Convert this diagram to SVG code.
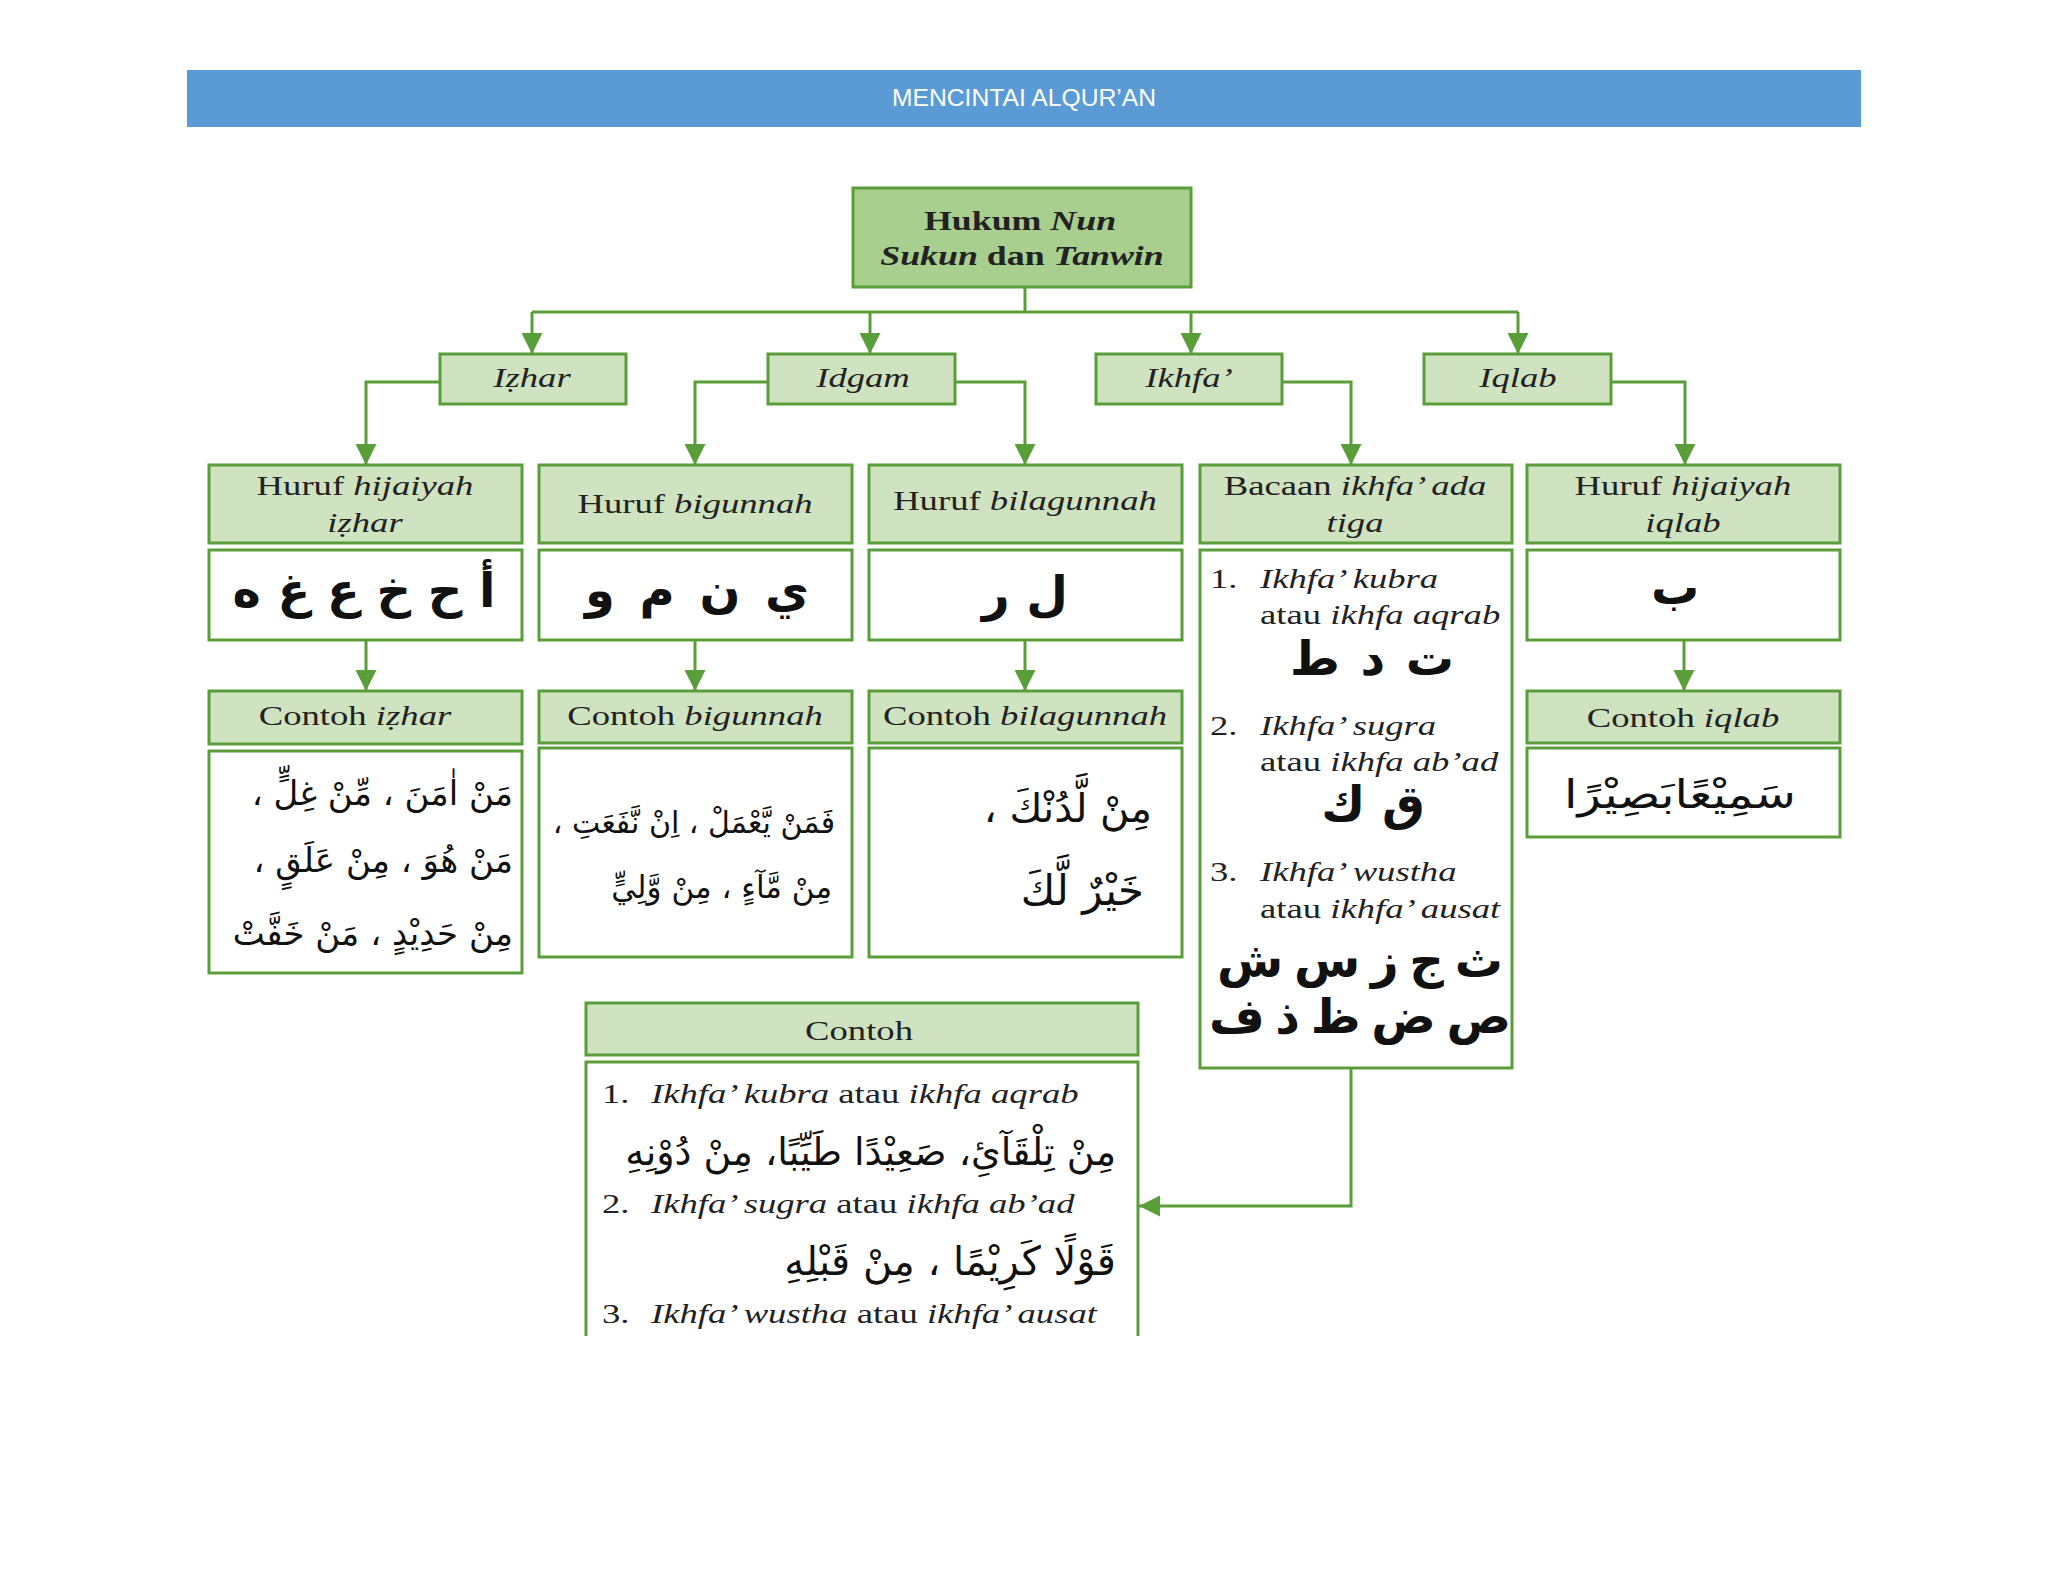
<svg xmlns="http://www.w3.org/2000/svg" width="2048" height="1582" viewBox="0 0 2048 1582">
<defs>
<style>
.bx{stroke:#5a9e3a;stroke-width:3}
.hd{fill:#cfe3c1}
.rt{fill:#a9cf8e}
.wb{fill:#ffffff}
.cn{stroke:#5a9e3a;stroke-width:3;fill:none}
.t{font-family:"Liberation Serif","Times New Roman",serif;font-size:28px;fill:#222222}
.b{font-weight:bold}
.i{font-style:italic}
.ar{font-family:"DejaVu Sans",sans-serif;fill:#111111}
.big{font-size:48px;font-weight:bold}
.ex{font-size:34px}
</style>
<marker id="ah" markerUnits="userSpaceOnUse" markerWidth="21" markerHeight="21" viewBox="0 0 20 20" refX="20" refY="10" orient="auto">
<path d="M0,0 L20,10 L0,20 z" fill="#5a9e3a"/>
</marker>
</defs>
<rect width="2048" height="1582" fill="#ffffff"/>

<g id="header-bar">
<rect x="187" y="70" width="1674" height="57" fill="#5b9bd5"/>
<text x="1024" y="106" text-anchor="middle" font-family="Liberation Sans, Arial, sans-serif" font-size="24" fill="#ffffff" textLength="264" lengthAdjust="spacingAndGlyphs">MENCINTAI ALQUR’AN</text>
</g>

<g id="connectors">
<path class="cn" d="M1025,287 V312"/>
<path class="cn" d="M532,312 H1518"/>
<path class="cn" d="M532,312 V354" marker-end="url(#ah)"/>
<path class="cn" d="M870,312 V354" marker-end="url(#ah)"/>
<path class="cn" d="M1191,312 V354" marker-end="url(#ah)"/>
<path class="cn" d="M1518,312 V354" marker-end="url(#ah)"/>
<path class="cn" d="M440,382 H366 V465" marker-end="url(#ah)"/>
<path class="cn" d="M768,382 H695 V465" marker-end="url(#ah)"/>
<path class="cn" d="M955,382 H1025 V465" marker-end="url(#ah)"/>
<path class="cn" d="M1282,382 H1351 V465" marker-end="url(#ah)"/>
<path class="cn" d="M1611,382 H1685 V465" marker-end="url(#ah)"/>
<path class="cn" d="M366,640 V691" marker-end="url(#ah)"/>
<path class="cn" d="M695,640 V691" marker-end="url(#ah)"/>
<path class="cn" d="M1025,640 V691" marker-end="url(#ah)"/>
<path class="cn" d="M1684,640 V691" marker-end="url(#ah)"/>
<path class="cn" d="M1351,1068 V1206 H1139" marker-end="url(#ah)"/>
</g>

<g id="n-root">
<rect class="bx rt" x="853" y="188" width="338" height="99"/>
<text class="t b" text-anchor="middle" transform="translate(1020 230) scale(1.28 1)">Hukum <tspan class="i">Nun</tspan></text>
<text class="t b" text-anchor="middle" transform="translate(1022 265) scale(1.28 1)"><tspan class="i">Sukun</tspan> dan <tspan class="i">Tanwin</tspan></text>
</g>

<g id="n-izhar">
<rect class="bx hd" x="440" y="354" width="186" height="50"/>
<text class="t i" text-anchor="middle" transform="translate(532 387) scale(1.31 1)">Iẓhar</text>
</g>
<g id="n-idgam">
<rect class="bx hd" x="768" y="354" width="187" height="50"/>
<text class="t i" text-anchor="middle" transform="translate(863 387) scale(1.31 1)">Idgam</text>
</g>
<g id="n-ikhfa">
<rect class="bx hd" x="1096" y="354" width="186" height="50"/>
<text class="t i" text-anchor="middle" transform="translate(1189 387) scale(1.31 1)">Ikhfa’</text>
</g>
<g id="n-iqlab">
<rect class="bx hd" x="1424" y="354" width="187" height="50"/>
<text class="t i" text-anchor="middle" transform="translate(1518 387) scale(1.31 1)">Iqlab</text>
</g>

<g id="n-huruf-izhar">
<rect class="bx hd" x="209" y="465" width="313" height="78"/>
<text class="t" text-anchor="middle" transform="translate(365 495) scale(1.31 1)">Huruf <tspan class="i">hijaiyah</tspan></text>
<text class="t i" text-anchor="middle" transform="translate(365 532) scale(1.31 1)">iẓhar</text>
<rect class="bx wb" x="209" y="550" width="313" height="90"/>
<text class="ar big" x="364" y="607" text-anchor="middle" direction="rtl">أ ح خ ع غ ه</text>
</g>
<g id="n-contoh-izhar">
<rect class="bx hd" x="209" y="691" width="313" height="53"/>
<text class="t" text-anchor="middle" transform="translate(355 725) scale(1.31 1)">Contoh <tspan class="i">iẓhar</tspan></text>
<rect class="bx wb" x="209" y="751" width="313" height="222"/>
<text class="ar ex" x="513" y="805" direction="rtl" text-anchor="start">مَنْ اٰمَنَ ، مِّنْ غِلٍّ ،</text>
<text class="ar ex" x="513" y="872" direction="rtl" text-anchor="start">مَنْ هُوَ ، مِنْ عَلَقٍ ،</text>
<text class="ar ex" x="513" y="945" direction="rtl" text-anchor="start">مِنْ حَدِيْدٍ ، مَنْ خَفَّتْ</text>
</g>

<g id="n-huruf-bigunnah">
<rect class="bx hd" x="539" y="465" width="313" height="78"/>
<text class="t" text-anchor="middle" transform="translate(695 513) scale(1.31 1)">Huruf <tspan class="i">bigunnah</tspan></text>
<rect class="bx wb" x="539" y="550" width="313" height="90"/>
<text class="ar big" x="697" y="607" text-anchor="middle" direction="rtl" word-spacing="8">ي ن م و</text>
</g>
<g id="n-contoh-bigunnah">
<rect class="bx hd" x="539" y="691" width="313" height="52"/>
<text class="t" text-anchor="middle" transform="translate(695 725) scale(1.31 1)">Contoh <tspan class="i">bigunnah</tspan></text>
<rect class="bx wb" x="539" y="748" width="313" height="209"/>
<text class="ar" font-size="30" x="835" y="833" direction="rtl" text-anchor="start">فَمَنْ يَّعْمَلْ ، اِنْ نَّفَعَتِ ،</text>
<text class="ar" font-size="31" x="832" y="898" direction="rtl" text-anchor="start">مِنْ مَّآءٍ ، مِنْ وَّلِيٍّ</text>
</g>

<g id="n-huruf-bilagunnah">
<rect class="bx hd" x="869" y="465" width="313" height="78"/>
<text class="t" text-anchor="middle" transform="translate(1025 510) scale(1.31 1)">Huruf <tspan class="i">bilagunnah</tspan></text>
<rect class="bx wb" x="869" y="550" width="313" height="90"/>
<text class="ar big" x="1025" y="610" text-anchor="middle" direction="rtl">ل ر</text>
</g>
<g id="n-contoh-bilagunnah">
<rect class="bx hd" x="869" y="691" width="313" height="52"/>
<text class="t" text-anchor="middle" transform="translate(1025 725) scale(1.31 1)">Contoh <tspan class="i">bilagunnah</tspan></text>
<rect class="bx wb" x="869" y="748" width="313" height="209"/>
<text class="ar" font-size="40" x="1152" y="822" direction="rtl" text-anchor="start">مِنْ لَّدُنْكَ ،</text>
<text class="ar" font-size="42" x="1144" y="905" direction="rtl" text-anchor="start">خَيْرٌ لَّكَ</text>
</g>

<g id="n-bacaan-ikhfa">
<rect class="bx hd" x="1200" y="465" width="312" height="78"/>
<text class="t" text-anchor="middle" transform="translate(1355 495) scale(1.31 1)">Bacaan <tspan class="i">ikhfa’ ada</tspan></text>
<text class="t i" text-anchor="middle" transform="translate(1355 532) scale(1.31 1)">tiga</text>
<rect class="bx wb" x="1200" y="550" width="312" height="518"/>
<text class="t" transform="translate(1210 588) scale(1.31 1)">1.</text>
<text class="t i" transform="translate(1260 588) scale(1.31 1)">Ikhfa’ kubra</text>
<text class="t" transform="translate(1260 624) scale(1.31 1)">atau <tspan class="i">ikhfa aqrab</tspan></text>
<text class="ar big" font-size="42" x="1372" y="675" text-anchor="middle" direction="rtl" word-spacing="4">ت د ط</text>
<text class="t" transform="translate(1210 735) scale(1.31 1)">2.</text>
<text class="t i" transform="translate(1260 735) scale(1.31 1)">Ikhfa’ sugra</text>
<text class="t" transform="translate(1260 771) scale(1.31 1)">atau <tspan class="i">ikhfa ab’ad</tspan></text>
<text class="ar big" font-size="42" x="1373" y="820" text-anchor="middle" direction="rtl">ق ك</text>
<text class="t" transform="translate(1210 881) scale(1.31 1)">3.</text>
<text class="t i" transform="translate(1260 881) scale(1.31 1)">Ikhfa’ wustha</text>
<text class="t" transform="translate(1260 918) scale(1.31 1)">atau <tspan class="i">ikhfa’ ausat</tspan></text>
<text class="ar big" font-size="36" x="1360" y="977" text-anchor="middle" direction="rtl" word-spacing="-6">ث ج ز س ش</text>
<text class="ar big" font-size="40" x="1360" y="1033" text-anchor="middle" direction="rtl" word-spacing="-6">ص ض ظ ذ ف</text>
</g>

<g id="n-huruf-iqlab">
<rect class="bx hd" x="1527" y="465" width="313" height="78"/>
<text class="t" text-anchor="middle" transform="translate(1683 495) scale(1.31 1)">Huruf <tspan class="i">hijaiyah</tspan></text>
<text class="t i" text-anchor="middle" transform="translate(1683 532) scale(1.31 1)">iqlab</text>
<rect class="bx wb" x="1527" y="550" width="313" height="90"/>
<text class="ar big" font-size="52" x="1675" y="604" text-anchor="middle" direction="rtl">ب</text>
</g>
<g id="n-contoh-iqlab">
<rect class="bx hd" x="1527" y="691" width="313" height="52"/>
<text class="t" text-anchor="middle" transform="translate(1683 727) scale(1.31 1)">Contoh <tspan class="i">iqlab</tspan></text>
<rect class="bx wb" x="1527" y="748" width="313" height="89"/>
<text class="ar" font-size="40" x="1680" y="808" text-anchor="middle" direction="rtl" textLength="232" lengthAdjust="spacingAndGlyphs">سَمِيْعًابَصِيْرًا</text>
</g>

<g id="n-contoh">
<rect class="bx hd" x="586" y="1003" width="552" height="52"/>
<text class="t" text-anchor="middle" transform="translate(859 1040) scale(1.31 1)">Contoh</text>
<rect class="wb" x="586" y="1062" width="552" height="274"/>
<path class="cn" d="M586,1336 V1062 H1138 V1336"/>
<text class="t" transform="translate(602 1103) scale(1.31 1)">1.</text>
<text class="t" transform="translate(651 1103) scale(1.31 1)"><tspan class="i">Ikhfa’ kubra</tspan> atau <tspan class="i">ikhfa aqrab</tspan></text>
<text class="ar" font-size="38" x="1116" y="1165" direction="rtl" text-anchor="start">مِنْ تِلْقَآئِ، صَعِيْدًا طَيِّبًا، مِنْ دُوْنِهِ</text>
<text class="t" transform="translate(602 1213) scale(1.31 1)">2.</text>
<text class="t" transform="translate(651 1213) scale(1.31 1)"><tspan class="i">Ikhfa’ sugra</tspan> atau <tspan class="i">ikhfa ab’ad</tspan></text>
<text class="ar" font-size="40" x="1116" y="1275" direction="rtl" text-anchor="start">قَوْلًا كَرِيْمًا ، مِنْ قَبْلِهِ</text>
<text class="t" transform="translate(602 1323) scale(1.31 1)">3.</text>
<text class="t" transform="translate(651 1323) scale(1.31 1)"><tspan class="i">Ikhfa’ wustha</tspan> atau <tspan class="i">ikhfa’ ausat</tspan></text>
</g>
</svg>
